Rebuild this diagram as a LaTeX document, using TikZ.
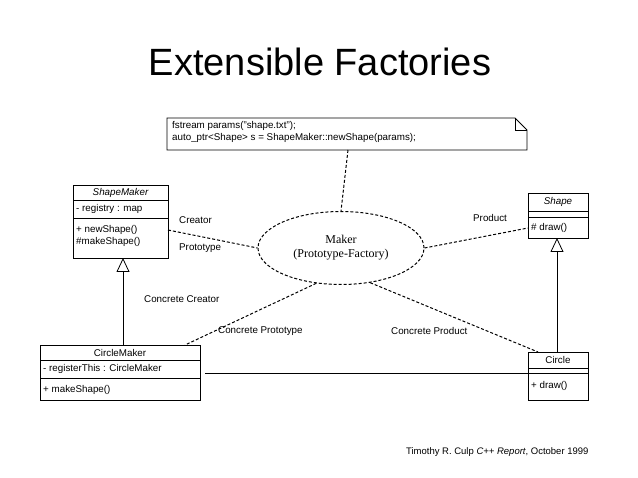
\documentclass[tikz,border=0pt]{standalone}
\usepackage{fontspec}
\setmainfont{Liberation Sans}
\newfontfamily\serifA{Liberation Serif}
\usetikzlibrary{shapes.geometric,arrows.meta}
\begin{document}
\begin{tikzpicture}[x=1pt,y=-1pt,
  box/.style={draw,line width=0.8pt,fill=white},
  dsh/.style={draw,line width=1pt,dash pattern=on 3pt off 2pt},
  sm/.style={font=\fontsize{9.8}{12}\selectfont,inner sep=1pt},
  lbl/.style={font=\fontsize{9.8}{12}\selectfont,inner sep=1pt,anchor=west}]
\useasboundingbox (0,0) rectangle (638,478);
\node (title) at (320,62) {\fontsize{38}{40}\selectfont Extensible Factories};
% note
\draw[box] (167,118) -- (515,118) -- (527,130) -- (527,150) -- (167,150) -- cycle;
\draw[line width=0.6pt] (515,118) -- (515,130) -- (527,130);
\coordinate (noteb) at (348,150);
\node[sm,anchor=north west,align=left] (note) at (171,120) {fstream params("shape.txt");\\auto\_ptr<Shape> s = ShapeMaker::newShape(params);};
% ellipse
\node[draw,line width=1pt,dash pattern=on 3pt off 2pt,ellipse,minimum width=166pt,minimum height=73pt,align=center,font=\serifA\fontsize{12}{14}\selectfont] (ell) at (341,248) {Maker\\(Prototype-Factory)};
\draw[dsh] (noteb) -- (ell.north);
% ShapeMaker
\draw[box] (73,185) rectangle (168,258);
\draw[line width=0.6pt] (73,200) -- (168,200) (73,218) -- (168,218);
\node[sm,font=\itshape\fontsize{9.8}{12}\selectfont] (smn) at (120.5,192.5) {ShapeMaker};
\node[lbl] (sma) at (75,209) {- registry : map};
\node[lbl,align=left,anchor=north west] (smm) at (75,224) {+ newShape()\\\#makeShape()};
\coordinate (smr) at (168,230);
\coordinate (smb) at (123,258);
% Shape
\draw[box] (528,193) rectangle (588,238);
\draw[line width=0.6pt] (528,211) -- (588,211) (528,217) -- (588,217);
\node[sm,font=\itshape\fontsize{9.8}{12}\selectfont] (shn) at (558,202) {Shape};
\node[lbl] (shm) at (530,228) {\# draw()};
\coordinate (shl) at (528,228);
\coordinate (shb) at (557,238);
% CircleMaker
\draw[box] (40,345) rectangle (200,400);
\draw[line width=0.6pt] (40,360) -- (200,360) (40,378) -- (200,378);
\node[sm] (cmn) at (120,352.5) {CircleMaker};
\node[lbl] (cma) at (42,369) {- registerThis : CircleMaker};
\node[lbl] (cmm) at (42,390) {+ makeShape()};
\coordinate (cmt) at (123,345);
\coordinate (cmd) at (185,345);
\coordinate (cmr) at (205,373);
% Circle
\draw[box] (528,352) rectangle (588,400);
\draw[line width=0.6pt] (528,368) -- (588,368) (528,373) -- (588,373);
\node[sm] (cn) at (558,360) {Circle};
\node[lbl] (cm) at (530,386) {+ draw()};
\coordinate (ct) at (557,352);
\coordinate (ctd) at (538,352);
\coordinate (cl) at (528,373);
% inheritance
\draw[line width=0.8pt,-{Triangle[open,length=14pt,width=13pt]}] (cmt) -- (smb);
\draw[line width=0.8pt,-{Triangle[open,length=14pt,width=13pt]}] (ct) -- (shb);
\draw[line width=0.8pt] (cmr) -- (cl);
% dashed roles
\draw[dsh] (smr) -- (ell.west);
\draw[dsh] (ell.east) -- (shl);
\draw[dsh] (ell.-125) -- (cmd);
\draw[dsh] (ell.-50) -- (ctd);
\node[lbl] (l1) at (178,220) {Creator};
\node[lbl] (l2) at (178,248) {Prototype};
\node[lbl] (l3) at (472,218) {Product};
\node[lbl] (l4) at (143,299) {Concrete Creator};
\node[lbl] (l5) at (217,331) {Concrete Prototype};
\node[lbl] (l6) at (390,331) {Concrete Product};
\node[anchor=east,font=\fontsize{9.5}{11}\selectfont] (foot) at (592,452) {Timothy R. Culp \textit{C++ Report}, October 1999};
\end{tikzpicture}
\end{document}
